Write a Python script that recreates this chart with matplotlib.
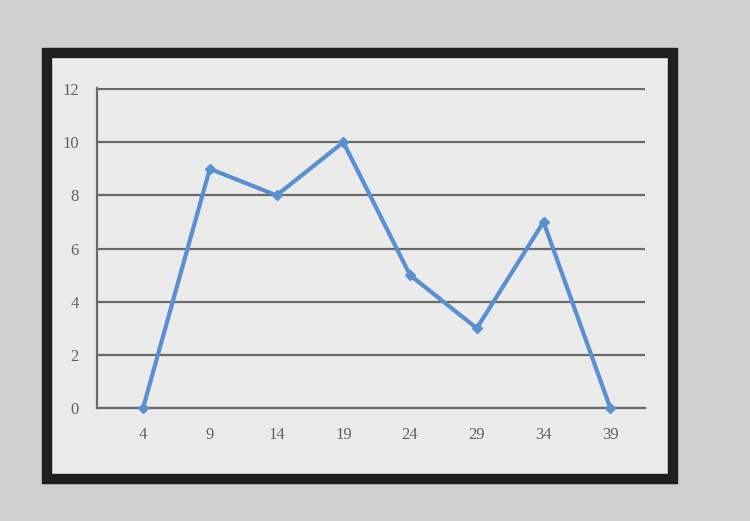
import matplotlib.pyplot as plt
from matplotlib.patches import Rectangle

x_values = [4, 9, 14, 19, 24, 29, 34, 39]
y_values = [0, 9, 8, 10, 5, 3, 7, 0]
y_ticks = [0, 2, 4, 6, 8, 10, 12]

fig = plt.figure(figsize=(7.5, 5.21), dpi=100)
fig.patch.set_facecolor('#cfcfcf')

# white panel with the heavy black border
panel = Rectangle((47 / 750, 1 - 479 / 521), 626 / 750, 426 / 521,
                  transform=fig.transFigure, facecolor='#ebebeb',
                  edgecolor='#1e1e1e', linewidth=7.5, zorder=-5)
fig.patches.append(panel)

ax = fig.add_axes([97 / 750, 1 - 408 / 521, 548 / 750, 320 / 521])
ax.set_zorder(2)
ax.set_facecolor('#ebebeb')

ax.plot(x_values, y_values, color='#5a8fd2', linewidth=3,
        marker='D', markersize=5, zorder=3, clip_on=False)

ax.set_xlim(0.55, 41.6)
ax.set_ylim(0, 12.04)
ax.set_xticks(x_values)
ax.set_yticks(y_ticks)
ax.grid(axis='y', color='#6a6a6a', linewidth=1.6)
ax.set_axisbelow(True)

for side in ['top', 'right']:
    ax.spines[side].set_visible(False)
ax.spines['left'].set_color('#6a6a6a')
ax.spines['left'].set_linewidth(1.6)
ax.spines['bottom'].set_color('#6a6a6a')
ax.spines['bottom'].set_linewidth(1.6)

ax.tick_params(axis='both', length=0, colors='#555555', labelsize=12)
ax.tick_params(axis='x', pad=14)
ax.tick_params(axis='y', pad=13)
for lbl in ax.get_xticklabels() + ax.get_yticklabels():
    lbl.set_fontfamily('Liberation Serif')
    lbl.set_color('#606060')

fig.savefig('out.png', dpi=100, facecolor=fig.get_facecolor())
